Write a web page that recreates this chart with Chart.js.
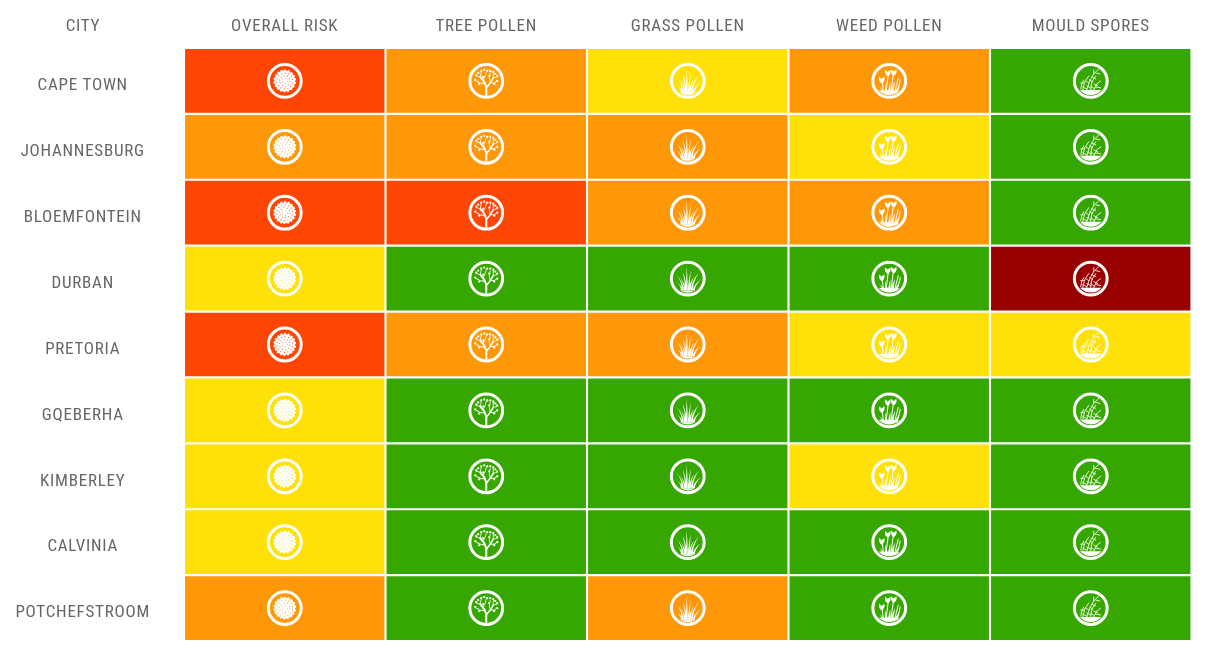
<!DOCTYPE html>
<html><head><meta charset="utf-8">
<style>html,body{margin:0;padding:0;background:#fff}canvas{display:block}</style>
<script src="https://cdn.jsdelivr.net/npm/chart.js@4"></script></head>
<body><canvas id="c" width="1210" height="652" style="width:1210px;height:652px"></canvas>
<script>
const columns = ['OVERALL RISK','TREE POLLEN','GRASS POLLEN','WEED POLLEN','MOULD SPORES'];
const cities = ['CAPE TOWN','JOHANNESBURG','BLOEMFONTEIN','DURBAN','PRETORIA','GQEBERHA','KIMBERLEY','CALVINIA','POTCHEFSTROOM'];
const capeTown = [3,2,1,2,0];
const johannesburg = [2,2,2,1,0];
const bloemfontein = [3,3,2,2,0];
const durban = [1,0,0,0,4];
const pretoria = [3,2,2,1,1];
const gqeberha = [1,0,0,0,0];
const kimberley = [1,0,0,1,0];
const calvinia = [1,0,0,0,0];
const potchefstroom = [2,0,2,0,0];
const rows = [capeTown,johannesburg,bloemfontein,durban,pretoria,gqeberha,kimberley,calvinia,potchefstroom];
const levelColours = ['#36A600','#FFE009','#FF9808','#FF4504','#990000'];
const FONT = '"Roboto Condensed","Liberation Sans Narrow",Roboto,sans-serif';
const TEXT = '#666666';
const SPACING = '0.75px';

const line=(c,pts,w)=>{c.lineWidth=w;c.beginPath();pts.forEach((p,i)=>i?c.lineTo(p[0],p[1]):c.moveTo(p[0],p[1]));c.stroke();};
const dot=(c,x,y,r)=>{c.beginPath();c.arc(x,y,r,0,7);c.fill();};
function overall(c,bg){
  dot(c,0,0,11.4);
  c.fillStyle=bg;
  [[2.6,5,.45],[5.2,10,.5],[7.9,14,.55],[11.2,18,1]].forEach(([r,n,s])=>{for(let i=0;i<n;i++){const a=i/n*6.283+r;dot(c,r*Math.cos(a),r*Math.sin(a),s);}});
}
function tree(c){
  line(c,[[0,14],[0,6],[-2,1],[-6,-4]],2);
  line(c,[[0,7],[4,2],[7,-3]],1.5);
  line(c,[[-1,3],[-6,2],[-10,0]],1);
  line(c,[[-3,-1],[-1,-5],[0,-9]],.8);
  line(c,[[4,2],[8,2],[11,0]],1);
  line(c,[[4,2],[3,-3],[4,-8]],.8);
  line(c,[[-6,-4],[-10,-5]],.8);
  line(c,[[-6,-4],[-5,-9]],.8);
  line(c,[[7,-3],[11,-4]],.8);
  line(c,[[7,-3],[7,-8]],.8);
  [[-5,-10],[-2,-11],[1,-10],[4,-10],[7,-9],[-10,-6],[-11,-1],[11,-5],[11,0],[-7,3],[8,3],[3,-5],[-3,-4],[9,-7],[-8,-8]].forEach(p=>dot(c,p[0],p[1],1.15));
}
function blade(c,bx,by,tx,ty,w){c.beginPath();c.moveTo(bx-w,by);c.quadraticCurveTo(bx-w*0.4,(by+ty)/2,tx,ty);c.quadraticCurveTo(bx+w*0.9,(by+ty)/2+1,bx+w,by);c.fill();}
function grass(c){
  [[-5,12,-12,-5],[-3,12,-8,-2],[-2,12,-5,-7],[-1,12,-1,-12],[1,12,3,-8],[2,12,6,-2],[4,12,11,-6],[-6,12,-13,2],[6,12,13,1]].forEach(b=>blade(c,b[0],b[1],b[2],b[3],1));
  c.beginPath();c.arc(0,0,14,1.05,2.1);c.fill();
}
function weed(c){
  [[-3,9,-1,-6],[2,9,4,-6],[-6,9,-7,1],[6,9,9,-3],[9,8,11,-1]].forEach(l=>line(c,[[l[0],l[1]],[l[2],l[3]]],1));
  [[-1.5,-8],[4.5,-8.5],[-7.5,-1]].forEach(p=>{
    c.beginPath();c.moveTo(p[0],p[1]+3.5);c.quadraticCurveTo(p[0]-3.8,p[1]+1,p[0]-2.6,p[1]-3.2);c.lineTo(p[0],p[1]-1);c.lineTo(p[0]+2.6,p[1]-3.2);c.quadraticCurveTo(p[0]+3.8,p[1]+1,p[0],p[1]+3.5);c.fill();
  });
  [[-6,12,-11,5],[-3,12,-4,2],[0,12,1,1],[3,12,6,0],[7,12,10,4]].forEach(b=>blade(c,b[0],b[1],b[2],b[3],1.4));
  c.beginPath();c.arc(0,0,14,0.75,2.4);c.fill();
}
function mould(c){
  [[[-8,9],[-6,1],[-2,-5]],[[-4,9],[-1,0],[3,-7],[8,-12]],[[0,9],[1,1],[5,-5]],[[3,9],[6,3],[10,0]],[[-10,8],[-9,3],[-7,-1]]].forEach(p=>line(c,p,0.85));
  [[-5,0,-2,2],[-1,-1,2,1],[1,-4,5,-2],[3,-7,3,-11],[5,-8,9,-7],[3,3,7,5],[-4,5,0,7],[-8,6,-4,8],[5,6,10,7],[0,5,4,8],[-7,2,-10,2]].forEach(s=>line(c,[[s[0],s[1]],[s[2],s[3]]],0.85));
  c.beginPath();c.arc(0,0,14,0.7,2.44);c.fill();
}
const glyphs=[overall,tree,grass,weed,mould];

const iconsPlugin={id:'icons',
  beforeUpdate(ch){ch.ctx.letterSpacing=SPACING;},
  beforeDraw(ch){ch.ctx.letterSpacing=SPACING;},
  afterDatasetsDraw(ch){
    const c=ch.ctx,x=ch.scales.x,y=ch.scales.y;
    rows.forEach((row,ri)=>row.forEach((lvl,ci)=>{
      const px=x.getPixelForValue(ci),py=y.getPixelForValue(ri+0.5);
      c.save();c.translate(px,py);
      c.strokeStyle='#fff';c.fillStyle='#fff';c.lineCap='round';c.lineJoin='round';
      c.lineWidth=3;c.beginPath();c.arc(0,0,16.4,0,7);c.stroke();
      glyphs[ci](c,levelColours[lvl]);
      c.restore();
    }));
    c.save();c.font='400 17px '+FONT;c.fillStyle=TEXT;c.textAlign='center';c.textBaseline='middle';
    c.fillText('CITY',83,27);c.restore();
  }};

new Chart(document.getElementById('c'),{
  type:'bar',
  plugins:[iconsPlugin],
  data:{labels:columns,datasets:rows.map((row,i)=>({
    label:cities[i],
    data:row.map(()=>[i,i+1]),
    backgroundColor:row.map(l=>levelColours[l]),
    borderColor:'#fff',borderWidth:1.4,borderSkipped:false,
    barPercentage:1,categoryPercentage:1,grouped:false
  }))},
  options:{responsive:false,maintainAspectRatio:false,animation:false,devicePixelRatio:1,
    layout:{padding:{left:0,right:18.5,top:0,bottom:11}},
    plugins:{legend:{display:false},title:{display:false},tooltip:{enabled:false}},
    scales:{
      x:{position:'top',type:'category',grid:{display:false,drawTicks:false},border:{display:false},
        afterFit(s){s.height=48;},
        ticks:{font:{family:FONT,size:17},color:TEXT,padding:11,maxRotation:0,autoSkip:false}},
      y:{type:'linear',reverse:true,min:0,max:9,grid:{display:false,drawTicks:true,tickLength:34},border:{display:false},
        afterFit(s){s.width=184;},
        afterBuildTicks(s){s.ticks=cities.map((_,i)=>({value:i+0.5}));},
        ticks:{font:{family:FONT,size:17},color:TEXT,padding:0,crossAlign:'center',labelOffset:5,autoSkip:false,
          callback(v){return cities[Math.floor(v)];}}}
    }}
});
</script></body></html>
